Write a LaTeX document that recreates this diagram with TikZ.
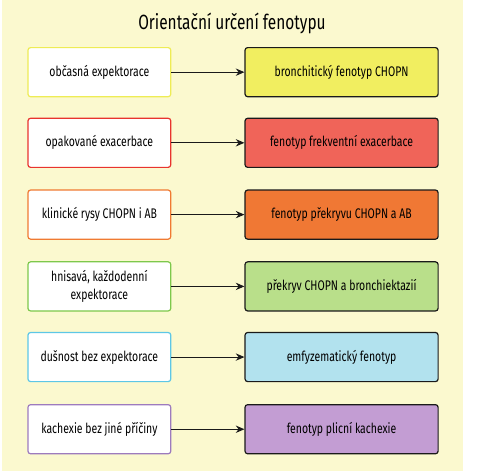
\documentclass[tikz,border=0pt]{standalone}
\usepackage{fontspec}
\setmainfont[FakeStretch=0.75]{Fira Sans}
\usepackage{xcolor}
\usetikzlibrary{arrows.meta}
\definecolor{panel-bg}{HTML}{FBF9CF}
\definecolor{ink}{HTML}{1A1A1A}
\definecolor{yel-line}{HTML}{EEEC55}
\definecolor{yel-fill}{HTML}{F1EE60}
\definecolor{red-line}{HTML}{E8342E}
\definecolor{red-fill}{HTML}{F06459}
\definecolor{ora-line}{HTML}{F07A32}
\definecolor{ora-fill}{HTML}{F07834}
\definecolor{grn-line}{HTML}{7DC84B}
\definecolor{grn-fill}{HTML}{B9DF8A}
\definecolor{blu-line}{HTML}{5DC7E6}
\definecolor{blu-fill}{HTML}{B2E2EE}
\definecolor{pur-line}{HTML}{9D7BBE}
\definecolor{pur-fill}{HTML}{C39DD3}

\begin{document}
\begin{tikzpicture}[
      every node/.style={font=\fontsize{10.5}{13}\selectfont},
      sign/.style={draw, line width=0.9pt, fill=white, rounded corners=2pt,
                   minimum width=3.78cm, minimum height=1.3cm, align=center},
      pheno/.style={draw=ink, line width=0.9pt, rounded corners=2pt,
                    minimum width=5.11cm, minimum height=1.3cm, align=center},
      link/.style={draw=ink, line width=0.7pt, -{Stealth[length=6.5pt, width=5.5pt]}}]

    % frame and background panel
    \useasboundingbox (0,0) rectangle (12.73,12.51);
    \fill[panel-bg] (0.05,0.05) rectangle (12.25,12.51);

    % heading
    \node[font=\fontsize{15.5}{18}\selectfont] (title) at (6.14,11.88) {Orientační určení fenotypu};

    % clinical signs (left column)
    \node[sign, draw=yel-line] (S1) at (2.63,10.60) {občasná expektorace};
    \node[sign, draw=red-line] (S2) at (2.63,8.73) {opakované exacerbace};
    \node[sign, draw=ora-line] (S3) at (2.63,6.83) {klinické rysy CHOPN i AB};
    \node[sign, draw=grn-line] (S4) at (2.63,4.93) {hnisavá, každodenní\\expektorace};
    \node[sign, draw=blu-line] (S5) at (2.63,3.06) {dušnost bez expektorace};
    \node[sign, draw=pur-line] (S6) at (2.63,1.15) {kachexie bez jiné příčiny};

    % phenotypes (right column)
    \node[pheno, fill=yel-fill] (P1) at (9.04,10.60) {bronchitický fenotyp CHOPN};
    \node[pheno, fill=red-fill] (P2) at (9.04,8.73) {fenotyp frekventní exacerbace};
    \node[pheno, fill=ora-fill] (P3) at (9.04,6.83) {fenotyp překryvu CHOPN a AB};
    \node[pheno, fill=grn-fill] (P4) at (9.04,4.93) {překryv CHOPN a bronchiektazií};
    \node[pheno, fill=blu-fill] (P5) at (9.04,3.06) {emfyzematický fenotyp};
    \node[pheno, fill=pur-fill] (P6) at (9.04,1.15) {fenotyp plicní kachexie};

    % sign -> phenotype
    \draw[link] (S1) -- (P1);
    \draw[link] (S2) -- (P2);
    \draw[link] (S3) -- (P3);
    \draw[link] (S4) -- (P4);
    \draw[link] (S5) -- (P5);
    \draw[link] (S6) -- (P6);
  \end{tikzpicture}
\end{document}
